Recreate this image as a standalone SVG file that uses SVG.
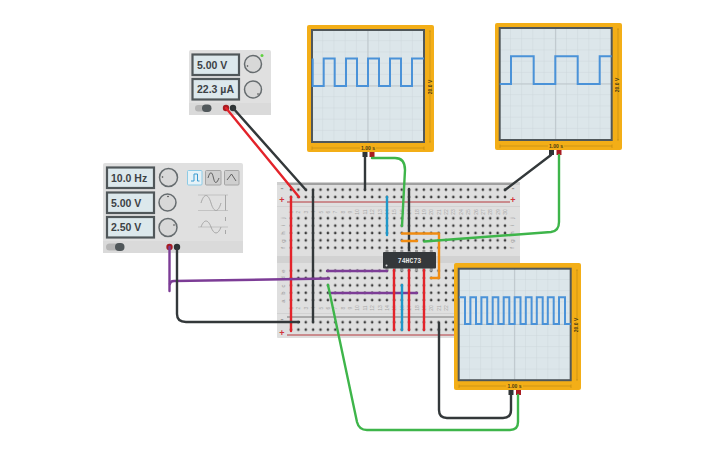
<svg xmlns="http://www.w3.org/2000/svg" width="725" height="453" viewBox="0 0 725 453">
<style>
text{font-family:"Liberation Sans",Arial,sans-serif}
.panel{fill:#e0e0e0}
.bar{fill:#dadada}
.disp{fill:#dce8ec;stroke:#50575a;stroke-width:2.2}
.val{font-size:10.5px;font-weight:700;fill:#3c4246}
.knob{fill:#d8d8d8;stroke:#666c6f;stroke-width:1.5}
.dot{fill:#444}
.frame{fill:#f3ae17}
.screen{fill:none;stroke:#50575a;stroke-width:2}
.wave{fill:none;stroke:#4a92d8;stroke-width:2}
.dim{fill:none;stroke:#c08c14;stroke-width:.7}
.sc{font-size:5px;font-weight:700;fill:#4a3c14;text-anchor:middle}
.tb{fill:#2f3436}.tr{fill:#a81c22}
.w{fill:none;stroke-width:2.4;stroke-linecap:round;stroke-linejoin:round}
.red{stroke:#e3232a}.blk{stroke:#33383a}.grn{stroke:#3eb54a}.blu{stroke:#1f97c9}.org{stroke:#f08c12}.pur{stroke:#7c3c96}
.n{font-size:5px;fill:#a8a8a8;text-anchor:middle}
.l{font-size:6px;fill:#999;text-anchor:middle}
.pm{font-size:9px;font-weight:700;text-anchor:middle}
.pin{fill:#9a9a9a}
.btn{fill:#cfcfcf;stroke:#a4a4a4;stroke-width:1}
</style>
<defs>
<pattern id="holes" patternUnits="userSpaceOnUse" x="287.31" y="0" width="7.38" height="7.36"><circle cx="3.69" cy="3.68" r="1.3" fill="#3b3b3b"/></pattern>
<pattern id="grid" patternUnits="userSpaceOnUse" width="11.2" height="11.2"><path d="M11.2 0V11.2M0 11.2H11.2" fill="none" stroke="#c9d3d7" stroke-width=".8"/></pattern>
</defs>

<g id="breadboard">
<rect x="277" y="182" width="243" height="156" rx="1" fill="#dfdfdf"/>
<rect x="277" y="182" width="243" height="3" fill="#cfcfcf"/>
<rect x="277" y="206" width="243" height="1" fill="#d2d2d2"/>
<rect x="277" y="256" width="243" height="7" fill="#d2d2d2"/>
<rect x="277" y="313" width="243" height="1" fill="#d2d2d2"/>
<path d="M287 184H512M287 317H512" stroke="#5a5a5a" stroke-width=".8"/>
<path d="M287 202H510M287 335H512" stroke="#b5383c" stroke-width="1"/>
<rect x="287.31" y="184" width="221.4" height="14.72" fill="url(#holes)" transform="translate(0 2)"/>
<rect x="287.31" y="213.44" width="221.4" height="36.8" fill="url(#holes)" transform="translate(0 1.2)"/>
<rect x="287.31" y="264.96" width="221.4" height="36.8" fill="url(#holes)" transform="translate(0 2.06)"/>
<rect x="287.31" y="316.48" width="221.4" height="14.72" fill="url(#holes)" transform="translate(0 2.14)"/>
<text class="pm" x="282" y="203" fill="#d2343a">+</text>
<text class="pm" x="513" y="203" fill="#d2343a">+</text>
<text class="pm" x="282" y="190.5" fill="#9a9a9a">-</text>
<text class="pm" x="513" y="190.5" fill="#9a9a9a">-</text>
<text class="pm" x="282" y="322" fill="#9a9a9a">-</text>
<text class="pm" x="282" y="336" fill="#d2343a">+</text>
<g>
<text class="l" transform="translate(285 218) rotate(-90)">j</text><text class="l" transform="translate(285 225.5) rotate(-90)">i</text><text class="l" transform="translate(285 233) rotate(-90)">h</text><text class="l" transform="translate(285 241) rotate(-90)">g</text><text class="l" transform="translate(285 248) rotate(-90)">f</text>
<text class="l" transform="translate(285 271) rotate(-90)">e</text><text class="l" transform="translate(285 278) rotate(-90)">d</text><text class="l" transform="translate(285 286) rotate(-90)">c</text><text class="l" transform="translate(285 293) rotate(-90)">b</text><text class="l" transform="translate(285 301) rotate(-90)">a</text>
<text class="l" transform="translate(514 218) rotate(-90)">j</text><text class="l" transform="translate(514 225.5) rotate(-90)">i</text><text class="l" transform="translate(514 233) rotate(-90)">h</text><text class="l" transform="translate(514 241) rotate(-90)">g</text><text class="l" transform="translate(514 248) rotate(-90)">f</text>
</g>
<g>
<text class="n" transform="translate(293 212) rotate(-90)">1</text><text class="n" transform="translate(300.4 212) rotate(-90)">2</text><text class="n" transform="translate(307.8 212) rotate(-90)">3</text><text class="n" transform="translate(315.1 212) rotate(-90)">4</text><text class="n" transform="translate(322.5 212) rotate(-90)">5</text><text class="n" transform="translate(329.9 212) rotate(-90)">6</text><text class="n" transform="translate(337.3 212) rotate(-90)">7</text><text class="n" transform="translate(344.7 212) rotate(-90)">8</text><text class="n" transform="translate(352 212) rotate(-90)">9</text><text class="n" transform="translate(359.4 212) rotate(-90)">10</text><text class="n" transform="translate(366.8 212) rotate(-90)">11</text><text class="n" transform="translate(374.2 212) rotate(-90)">12</text><text class="n" transform="translate(381.6 212) rotate(-90)">13</text><text class="n" transform="translate(388.9 212) rotate(-90)">14</text><text class="n" transform="translate(396.3 212) rotate(-90)">15</text><text class="n" transform="translate(403.7 212) rotate(-90)">16</text><text class="n" transform="translate(411.1 212) rotate(-90)">17</text><text class="n" transform="translate(418.5 212) rotate(-90)">18</text><text class="n" transform="translate(425.8 212) rotate(-90)">19</text><text class="n" transform="translate(433.2 212) rotate(-90)">20</text><text class="n" transform="translate(440.6 212) rotate(-90)">21</text><text class="n" transform="translate(448 212) rotate(-90)">22</text><text class="n" transform="translate(455.4 212) rotate(-90)">23</text><text class="n" transform="translate(462.7 212) rotate(-90)">24</text><text class="n" transform="translate(470.1 212) rotate(-90)">25</text><text class="n" transform="translate(477.5 212) rotate(-90)">26</text><text class="n" transform="translate(484.9 212) rotate(-90)">27</text><text class="n" transform="translate(492.3 212) rotate(-90)">28</text><text class="n" transform="translate(499.6 212) rotate(-90)">29</text><text class="n" transform="translate(507 212) rotate(-90)">30</text>
<text class="n" transform="translate(293 308) rotate(-90)">1</text><text class="n" transform="translate(300.4 308) rotate(-90)">2</text><text class="n" transform="translate(307.8 308) rotate(-90)">3</text><text class="n" transform="translate(315.1 308) rotate(-90)">4</text><text class="n" transform="translate(322.5 308) rotate(-90)">5</text><text class="n" transform="translate(329.9 308) rotate(-90)">6</text><text class="n" transform="translate(337.3 308) rotate(-90)">7</text><text class="n" transform="translate(344.7 308) rotate(-90)">8</text><text class="n" transform="translate(352 308) rotate(-90)">9</text><text class="n" transform="translate(359.4 308) rotate(-90)">10</text><text class="n" transform="translate(366.8 308) rotate(-90)">11</text><text class="n" transform="translate(374.2 308) rotate(-90)">12</text><text class="n" transform="translate(381.6 308) rotate(-90)">13</text><text class="n" transform="translate(388.9 308) rotate(-90)">14</text><text class="n" transform="translate(396.3 308) rotate(-90)">15</text><text class="n" transform="translate(403.7 308) rotate(-90)">16</text><text class="n" transform="translate(411.1 308) rotate(-90)">17</text><text class="n" transform="translate(418.5 308) rotate(-90)">18</text><text class="n" transform="translate(425.8 308) rotate(-90)">19</text><text class="n" transform="translate(433.2 308) rotate(-90)">20</text><text class="n" transform="translate(440.6 308) rotate(-90)">21</text><text class="n" transform="translate(448 308) rotate(-90)">22</text>
</g>
</g>

<g id="power-supply">
<rect class="panel" x="189" y="50" width="82" height="65" rx="2"/>
<rect class="bar" x="189" y="103" width="82" height="12"/>
<rect class="disp" x="192.500" y="54.500" width="46.500" height="20.500"/>
<text class="val" x="197" y="68.500">5.00 V</text>
<rect class="disp" x="192.500" y="79" width="46.500" height="20.500"/>
<text class="val" x="197" y="93">22.3 µA</text>
<circle class="knob" cx="253" cy="64" r="8.500"/><circle class="dot" cx="247.500" cy="66" r=".8"/>
<circle class="knob" cx="253" cy="89.500" r="8.500"/><circle class="dot" cx="258" cy="94" r=".8"/>
<circle cx="262" cy="55.500" r="1.500" fill="#5fd13f"/>
<rect x="195" y="105" width="16" height="6.500" rx="3.200" fill="#b5b5b5"/><rect x="202" y="104.500" width="9.500" height="7.500" rx="3.700" fill="#50575a"/>
<circle class="tr" cx="226" cy="108" r="3.200"/><circle class="tb" cx="233" cy="108" r="3.200"/>
</g>

<g id="function-generator">
<rect class="panel" x="103" y="163" width="140" height="90" rx="2"/>
<rect class="bar" x="103" y="241" width="140" height="12"/>
<rect class="disp" x="107" y="167.500" width="47" height="20.500"/>
<text class="val" x="111" y="181.500">10.0 Hz</text>
<rect class="disp" x="107" y="192.500" width="47" height="20.500"/>
<text class="val" x="111" y="206.500">5.00 V</text>
<rect class="disp" x="107" y="217" width="47" height="20.500"/>
<text class="val" x="111" y="231">2.50 V</text>
<circle class="knob" cx="168.500" cy="177.500" r="9"/><circle class="dot" cx="162.500" cy="177" r=".8"/>
<circle class="knob" cx="167.500" cy="202.500" r="8.500"/><circle class="dot" cx="168" cy="196.500" r=".8"/>
<circle class="knob" cx="168" cy="227.500" r="9"/><circle class="dot" cx="174" cy="225" r=".8"/>
<rect x="187.500" y="170.500" width="14.500" height="14.500" rx="1" fill="#e6f2f7" stroke="#8ccbe6" stroke-width="1"/>
<path d="M191 181h3v-7h3.500v7h2" fill="none" stroke="#3a9ad0" stroke-width="1"/>
<rect class="btn" x="205.500" y="170.500" width="15.500" height="14.500" rx="1"/>
<path d="M208 178c2-7 4-7 5.500 0s3.500 5 5.500 0" fill="none" stroke="#555" stroke-width=".9"/>
<rect class="btn" x="224.500" y="170.500" width="14.500" height="14.500" rx="1"/>
<path d="M227 180l4.500-6 4.500 7" fill="none" stroke="#555" stroke-width=".9"/>
<path d="M198 195H228M198 210.500H228" fill="none" stroke="#bbb" stroke-width=".8"/>
<path d="M201 203c3-10 7-10 10 0s7 10 10 0M225.500 195v15.500" fill="none" stroke="#a0a0a0" stroke-width=".9"/>
<path d="M198 227H228" fill="none" stroke="#bbb" stroke-width=".8"/>
<path d="M201 227c3-8 7-8 10 0s7 8 10 0M225.500 221v-4M225.500 230v4" fill="none" stroke="#a0a0a0" stroke-width=".9"/>
<rect x="106" y="243.500" width="18" height="7" rx="3.500" fill="#b5b5b5"/><rect x="115" y="243" width="9.500" height="8" rx="4" fill="#50575a"/>
<circle class="tr" cx="169.500" cy="247" r="3.200"/><circle class="tb" cx="177" cy="247" r="3.200"/>
</g>

<g id="ic-74hc73">
<path class="pin" d="M385.500 250h3v3h-3zM392.900 250h3v3h-3zM400.300 250h3v3h-3zM407.700 250h3v3h-3zM415 250h3v3h-3zM422.400 250h3v3h-3zM429.800 250h3v3h-3zM385.500 268h3v3h-3zM392.900 268h3v3h-3zM400.300 268h3v3h-3zM407.700 268h3v3h-3zM415 268h3v3h-3zM422.400 268h3v3h-3zM429.800 268h3v3h-3z"/>
<rect x="383" y="252" width="53" height="16.500" rx="1" fill="#34383b"/>
<circle cx="386.500" cy="265.500" r="1" fill="#ddd"/>
<text x="409.500" y="262.500" font-size="6.500" font-weight="700" fill="#e8e8e8" text-anchor="middle" style="font-family:'Liberation Mono',monospace">74HC73</text>
</g>

<g id="oscilloscope-1">
<rect class="frame" x="307" y="25" width="127" height="127" rx="2"/>
<g transform="translate(312 30)"><rect width="112" height="112" fill="#dce6ea"/><rect width="112" height="112" fill="url(#grid)"/><path d="M56 0V112M0 56H112" stroke="#bcc6ca" stroke-width="1"/></g>
<rect class="screen" x="312" y="30" width="112" height="112"/>
<path class="wave" d="M312.700 58.500V86H323.700V58.500H334.700V86H346V58.500H357V86H368V58.500H379V86H390V58.500H401V86H412V58.500H424"/>
<path class="dim" d="M312 146.500V150M312 148H360M376 148H424M424 146.500V150M429 31H431M430 31V80M430 94V142M429 142H431"/>
<text class="sc" x="368" y="149.800">1.00 s</text>
<text class="sc" transform="translate(431.500 87) rotate(-90)">20.0 V</text>
<rect class="tb" x="362.500" y="152" width="5" height="5"/><rect class="tr" x="369.500" y="152" width="5" height="5"/>
</g>

<g id="oscilloscope-2">
<rect class="frame" x="495" y="23" width="127" height="127" rx="2"/>
<g transform="translate(499.700 28)"><rect width="112" height="112" fill="#dce6ea"/><rect width="112" height="112" fill="url(#grid)"/><path d="M56 0V112M0 56H112" stroke="#bcc6ca" stroke-width="1"/></g>
<rect class="screen" x="499.700" y="28" width="112" height="112"/>
<path class="wave" d="M499.700 84H511V56.300H533.700V84H555.300V56.300H577.700V84H599.700V56.300H611.700"/>
<path class="dim" d="M500 144.500V148M500 146H548M564 146H612M612 144.500V148M617 29H619M618 29V78M618 92V140M617 140H619"/>
<text class="sc" x="556" y="147.800">1.00 s</text>
<text class="sc" transform="translate(619 85) rotate(-90)">20.0 V</text>
<rect class="tb" x="549" y="150" width="5" height="5"/><rect class="tr" x="556.500" y="150" width="5" height="5"/>
</g>

<g id="oscilloscope-3">
<rect class="frame" x="454" y="263" width="127" height="127" rx="2"/>
<g transform="translate(458.700 268.700)"><rect width="112" height="111.500" fill="#dce6ea"/><rect width="112" height="111.500" fill="url(#grid)"/><path d="M56 0V111.500M0 55.700H112" stroke="#bcc6ca" stroke-width="1"/></g>
<rect class="screen" x="458.700" y="268.700" width="112" height="111.500"/>
<path class="wave" d="M459 297.300H465V324H470.400V297.300H476V324H481.400V297.300H487.200V324H492.700V297.300H498.300V324H503.700V297.300H509.300V324H514.700V297.300H520.500V324H525.800V297.300H531.600V324H536.800V297.300H542.700V324H547.800V297.300H553.700V324H559V297.300H565V324H570.700"/>
<path class="dim" d="M459 384.500V388M459 386H506M523 386H571M571 384.500V388M576 270H578M577 270V318M577 332V380M576 380H578"/>
<text class="sc" x="514.500" y="387.800">1.00 s</text>
<text class="sc" transform="translate(578 325) rotate(-90)">20.0 V</text>
<rect class="tb" x="508.500" y="390" width="5" height="5"/><rect class="tr" x="516" y="390" width="5" height="5"/>
</g>

<g id="connectors">
<path class="w red" d="M226 108L299 197"/>
<path class="w blk" d="M233 108L306 190"/>
<path class="w red" d="M291 197V331"/>
<path class="w blk" d="M313 190V322"/>
<path class="w blk" d="M365 157V190"/>
<path class="w grn" d="M372 158H395Q405 158 405 170L402 226"/>
<path class="w blu" d="M387 197V235"/>
<path class="w blk" d="M409 189V250"/>
<path class="w org" d="M402 233.500H439V278H431"/>
<path class="w org" d="M402 241H417"/>
<path class="w grn" d="M424 241.500L551 232Q559 231 559 222V155"/>
<path class="w blk" d="M551 155L505 190"/>
<path class="w pur" d="M169.500 247V291"/>
<path class="w pur" d="M170 284Q170 281 174 281L329 278.500"/>
<path class="w blk" d="M177 247V314Q177 322 186 322H299"/>
<path class="w pur" d="M327 271H387"/>
<path class="w pur" d="M329 293H417"/>
<path class="w red" d="M394 270V330"/>
<path class="w blu" d="M402 285V330"/>
<path class="w red" d="M409 270V330"/>
<path class="w red" d="M424 270V330"/>
<path class="w grn" d="M328 285L357 422Q359 430 367 430H510Q518 430 518 422V395"/>
<path class="w blk" d="M439 323V410Q439 418 447 418H503Q511 418 511 410V395"/>
</g>
</svg>
